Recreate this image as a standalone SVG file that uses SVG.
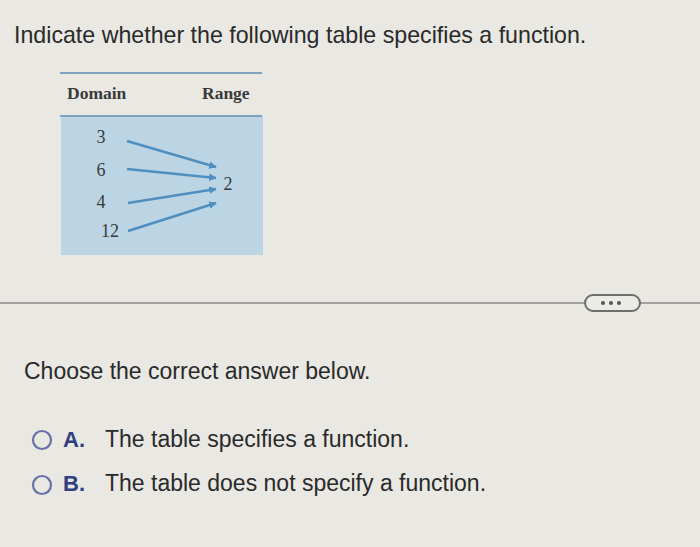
<svg xmlns="http://www.w3.org/2000/svg" width="700" height="547" viewBox="0 0 700 547">
<style>
.sans{font-family:"Liberation Sans",Arial,sans-serif;fill:#2a2a2a}
.serif{font-family:"Liberation Serif","Times New Roman",serif;fill:#3a3a3a}
.conn{stroke:#4f8fc0;stroke-width:2.4;fill:none;marker-end:url(#ah)}
.radio{fill:none;stroke:#6a70a8;stroke-width:2.2}
.lbl{font-family:"Liberation Sans",Arial,sans-serif;font-weight:bold;fill:#2f3f80}
</style>
<defs>
<marker id="ah" viewBox="0 0 10 10" refX="9" refY="5" markerWidth="3.2" markerHeight="3.2" orient="auto">
<path d="M0,0 L10,5 L0,10 z" fill="#4f8fc0"/>
</marker>
</defs>
<rect width="700" height="547" fill="#e9e8e2"/>
<g id="title"><text class="sans" x="14" y="43" font-size="23.2">Indicate whether the following table specifies a function.</text></g>
<g id="table">
<line x1="60" y1="73" x2="262" y2="73" stroke="#7fa3be" stroke-width="2"/>
<text class="serif" x="67" y="99" font-size="17.5" font-weight="bold" fill="#2e2e2e">Domain</text>
<text class="serif" x="202" y="99" font-size="17.5" font-weight="bold" fill="#2e2e2e">Range</text>
<rect x="61" y="116" width="202" height="139" fill="#bcd5e4"/>
<line x1="60" y1="116" x2="262" y2="116" stroke="#7fa3be" stroke-width="2"/>
</g>
<g id="n3"><text class="serif" x="101" y="143" font-size="18" text-anchor="middle">3</text></g>
<g id="n6"><text class="serif" x="101" y="176" font-size="18" text-anchor="middle">6</text></g>
<g id="n4"><text class="serif" x="101" y="208" font-size="18" text-anchor="middle">4</text></g>
<g id="n12"><text class="serif" x="110" y="237" font-size="18" text-anchor="middle">12</text></g>
<g id="n2"><text class="serif" x="228" y="190" font-size="18" text-anchor="middle">2</text></g>
<g id="connectors">
<line class="conn" x1="127" y1="141" x2="216" y2="167"/>
<line class="conn" x1="127" y1="169" x2="216" y2="178"/>
<line class="conn" x1="128" y1="203" x2="216" y2="189"/>
<line class="conn" x1="128" y1="231" x2="216" y2="203"/>
</g>
<g id="divider">
<line x1="0" y1="303" x2="700" y2="303" stroke="#8a8a86" stroke-width="1.5"/>
<rect x="585" y="295" width="55" height="16" rx="8" fill="#ecebe6" stroke="#6e6e6a" stroke-width="2"/>
<circle cx="603" cy="303" r="2" fill="#555"/>
<circle cx="611" cy="303" r="2" fill="#555"/>
<circle cx="619" cy="303" r="2" fill="#555"/>
</g>
<g id="prompt"><text class="sans" x="24" y="379" font-size="23">Choose the correct answer below.</text></g>
<g id="optA">
<circle class="radio" cx="42" cy="440" r="9"/>
<text class="lbl" x="63" y="447" font-size="22">A.</text>
<text class="sans" x="105" y="447" font-size="23">The table specifies a function.</text>
</g>
<g id="optB">
<circle class="radio" cx="42" cy="485" r="9"/>
<text class="lbl" x="63" y="491" font-size="22">B.</text>
<text class="sans" x="105" y="491" font-size="23">The table does not specify a function.</text>
</g>
</svg>
